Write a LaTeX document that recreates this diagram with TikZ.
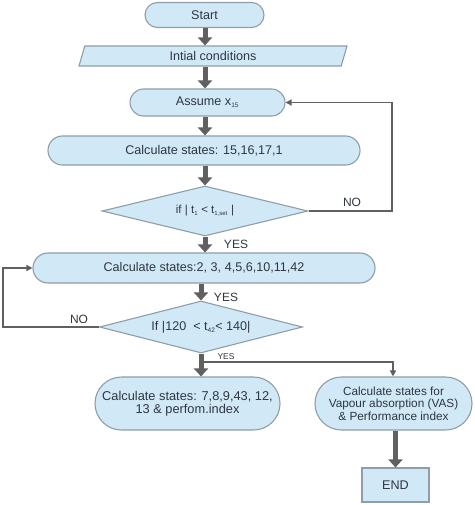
\documentclass[tikz,border=0pt]{standalone}
\usepackage{fontspec}
\setmainfont{Liberation Sans}
\usetikzlibrary{shapes.misc,shapes.geometric,arrows.meta}
\definecolor{boxfill}{HTML}{D1E9F6}
\definecolor{boxline}{HTML}{8E9DA8}
\definecolor{txt}{HTML}{2E3642}
\definecolor{arr}{HTML}{606060}
\newcommand{\sbs}[1]{\textsubscript{\fontsize{6.5}{6.5}\selectfont #1}}
\newcommand{\sbt}[1]{\textsubscript{\fontsize{6}{6}\selectfont #1}}
\tikzset{
  x=1pt,y=-1pt,
  every node/.style={font=\fontsize{12.6}{13}\selectfont, text=txt},
  base/.style={draw=boxline, line width=1.1pt, fill=boxfill, inner sep=0pt},
  oval/.style={base, rounded rectangle, rounded rectangle arc length=180},
  para/.style={base, trapezium, trapezium left angle=58, trapezium right angle=122, trapezium stretches body},
  dia/.style={base, diamond, aspect=4},
  rectbox/.style={base, rectangle},
  bigarrow/.style={draw=arr, line width=5pt, -{Triangle[width=14pt,length=8pt]}},
  thinarrow/.style={draw=arr, line width=1.6pt, -{Triangle[width=6pt,length=6pt]}},
  lbl/.style={font=\fontsize{12}{12}\selectfont, text=txt, inner sep=0pt},
}
\begin{document}
\begin{tikzpicture}
\useasboundingbox (0,0) rectangle (474,505);
\node[oval, minimum width=119pt, minimum height=25pt] (start) at (204.5,15) {Start};
\node[para, minimum width=268pt, minimum height=20pt] (init) at (213,56) {Intial conditions};
\node[oval, minimum width=155pt, minimum height=27pt] (assume) at (207.5,102.5) {Assume x\sbs{15}};
\node[oval, minimum width=312pt, minimum height=29pt] (calc1) at (204,150.5) {Calculate states: 15,16,17,1};
\node[dia, minimum width=206pt, minimum height=50pt, font=\fontsize{11.5}{12}\selectfont] (d1) at (205,211) {if | t\sbt{1} < t\sbt{1,set} |};
\node[oval, minimum width=342pt, minimum height=30pt] (calc2) at (204,268) {Calculate states:2, 3, 4,5,6,10,11,42};
\node[dia, minimum width=203pt, minimum height=52pt] (d2) at (201,327) {If |120 \ < t\sbs{42}< 140|};
\node[oval, minimum width=185pt, minimum height=53pt, align=center, font=\fontsize{12.8}{13}\selectfont] (left) at (187.5,403.5) {Calculate states: 7,8,9,43, 12,\\13 \& perfom.index};
\node[oval, minimum width=157pt, minimum height=53pt, align=center, font=\fontsize{11.8}{12.7}\selectfont] (right) at (393.5,403.5) {Calculate states for\\Vapour absorption (VAS)\\\& Performance index};
\node[rectbox, minimum width=67pt, minimum height=34pt] (end) at (395.5,485) {END};

\coordinate (a1) at (205,0);
\draw[bigarrow] (a1 |- start.south) -- (a1 |- init.north);
\draw[bigarrow] (a1 |- init.south) -- (a1 |- assume.north);
\draw[bigarrow] (a1 |- assume.south) -- (a1 |- calc1.north);
\draw[bigarrow] (a1 |- calc1.south) -- (d1.north);
\draw[bigarrow] (d1.south) -- (d1.south |- calc2.north);
\coordinate (a2) at (201,0);
\draw[bigarrow] (a2 |- calc2.south) -- (d2.north);
\draw[bigarrow] (d2.south) -- (d2.south |- left.north);
\draw[bigarrow] (right.south -| end.north) -- (end.north);

\coordinate (n1) at (392,211);
\draw[thinarrow] (d1.east) -- (n1) |- (assume.east);
\coordinate (n2) at (3,327);
\draw[thinarrow] (d2.west) -- (n2) |- (calc2.west);
\coordinate (y1) at (201,362);
\coordinate (y2) at (393,362);
\draw[thinarrow] (y1) -- (y2) -- (y2 |- right.north);

\node[lbl] (no1) at (352,202) {NO};
\node[lbl] (yes1) at (236,244) {YES};
\node[lbl] (yes2) at (226,297) {YES};
\node[lbl] (no2) at (79,319) {NO};
\node[lbl, font=\fontsize{8.5}{9}\selectfont] (yes3) at (226,357) {YES};
\end{tikzpicture}
\end{document}
